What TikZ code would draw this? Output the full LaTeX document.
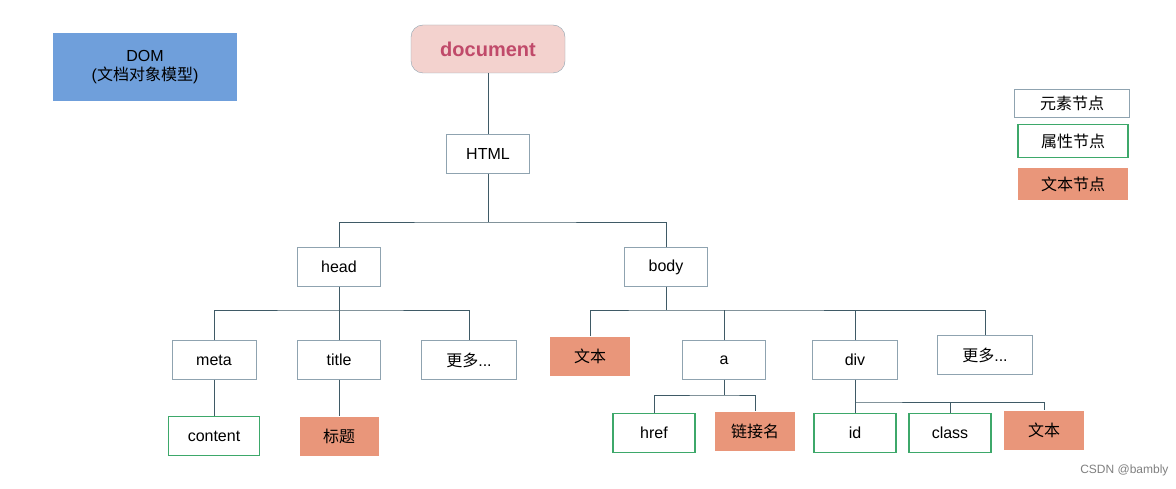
\documentclass[tikz,border=0pt]{standalone}
\usepackage{fontspec}
\setmainfont{Liberation Sans}
\newfontfamily\cjk{Noto Sans CJK SC}
\definecolor{domblue}{HTML}{6F9FDB}
\definecolor{docpink}{HTML}{F3D2CE}
\definecolor{doctext}{HTML}{C04A6A}
\definecolor{txtorange}{HTML}{E9967A}
\definecolor{attrgreen}{HTML}{3DA86A}
\definecolor{elborder}{HTML}{8FA3B0}
\definecolor{linec}{HTML}{3F5A66}
\begin{document}
\begin{tikzpicture}[x=1pt,y=-1pt,
  box/.style={draw=elborder,fill=white,minimum height=39pt,inner sep=0pt,font=\fontsize{16}{18}\selectfont},
  elem/.style={box},
  attr/.style={box,draw=attrgreen,line width=1.3pt,fill=white},
  txt/.style={box,draw=none,fill=txtorange},
  ln/.style={draw=linec,line width=0.9pt}]
\useasboundingbox (0,0) rectangle (1176,489);
\fill[white] (0,0) rectangle (1176,489);
\node[fill=domblue,minimum width=184pt,minimum height=68pt,align=center,font=\fontsize{16}{19}\selectfont] (dom) at (145,67) {DOM\\({\cjk 文档对象模型})};
\node[draw=elborder,fill=docpink,rounded corners=12pt,minimum width=154pt,minimum height=48pt,font=\bfseries\fontsize{20}{22}\selectfont,text=doctext] (doc) at (488,49) {document};
\node[elem,minimum width=83pt] (html) at (488,154) {HTML};
\node[elem,minimum width=83pt] (head) at (339,267) {head};
\node[elem,minimum width=83pt] (body) at (666,267) {body};
\node[elem,minimum width=84pt] (meta) at (214,360) {meta};
\node[elem,minimum width=83pt] (title) at (339,360) {title};
\node[elem,minimum width=95pt] (more1) at (469,360) {{\cjk 更多}...};
\node[txt,minimum width=80pt] (t1) at (590,356) {\cjk 文本};
\node[elem,minimum width=83pt] (a) at (724,360) {a};
\node[elem,minimum width=85pt] (div) at (855,360) {div};
\node[elem,minimum width=95pt] (more2) at (985,355) {{\cjk 更多}...};
\node[attr,minimum width=91pt] (content) at (214,436) {content};
\node[txt,minimum width=79pt] (bt) at (339,436) {\cjk 标题};
\node[attr,minimum width=82pt] (href) at (654,433) {href};
\node[txt,minimum width=80pt] (lj) at (755,431) {\cjk 链接名};
\node[attr,minimum width=82pt] (id) at (855,433) {id};
\node[attr,minimum width=82pt] (cls) at (950,433) {class};
\node[txt,minimum width=80pt] (t2) at (1044,430) {\cjk 文本};
\node[elem,minimum width=115pt,minimum height=28pt] (l1) at (1072,103) {\cjk 元素节点};
\node[attr,minimum width=110pt,minimum height=33pt] (l2) at (1073,141) {\cjk 属性节点};
\node[txt,minimum width=110pt,minimum height=32pt] (l3) at (1073,184) {\cjk 文本节点};
\node[text=gray,font=\fontsize{12}{14}\selectfont,anchor=east] (wm) at (1172,470) {CSDN @bambly};
% connectors
\coordinate (j1) at (488,222);
\coordinate (j2) at (339,310);
\coordinate (j3) at (666,310);
\coordinate (j4) at (724,395);
\coordinate (j5) at (855,402);
\draw[ln] (doc.south) -- (html.north);
\draw[ln] (html.south) -- (j1);
\draw[ln] (head.north) |- (j1) -| (body.north);
\draw[ln] (head.south) -- (j2);
\draw[ln] (meta.north) |- (j2) -| (more1.north);
\draw[ln] (title.north) -- (j2);
\draw[ln] (body.south) -- (j3);
\draw[ln] (t1.north) |- (j3) -| (more2.north);
\draw[ln] (a.north) -- (a.north |- j3);
\draw[ln] (div.north) -- (div.north |- j3);
\draw[ln] (meta.south) -- (content.north);
\draw[ln] (title.south) -- (bt.north);
\draw[ln] (a.south) -- (j4);
\draw[ln] (href.north) |- (j4) -| (lj.north);
\draw[ln] (div.south) -- (j5);
\draw[ln] (id.north) -- (j5);
\draw[ln] (cls.north) |- (j5) -| (t2.north);
\end{tikzpicture}
\end{document}
